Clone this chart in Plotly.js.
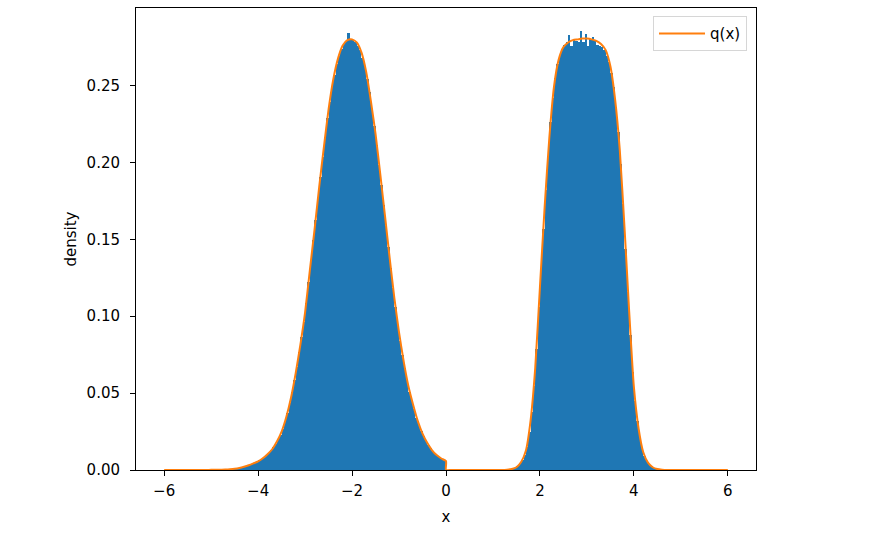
<!DOCTYPE html>
<html>
<head>
<meta charset="utf-8">
<script src="https://cdn.plot.ly/plotly-3.0.1.min.js"></script>
<style>
  html, body { margin: 0; padding: 0; background: #fff; }
  #chart { width: 890px; height: 536px; }
</style>
</head>
<body>
<div id="chart"></div>
<script>
// ---- Data ----

// q(x) curve, left part: x from -6.0 to 0.0 step 0.1
const curveXLeft = [-6.0,-5.9,-5.8,-5.7,-5.6,-5.5,-5.4,-5.3,-5.2,-5.1,
  -5.0,-4.9,-4.8,-4.7,-4.6,-4.5,-4.4,-4.3,-4.2,-4.1,
  -4.0,-3.9,-3.8,-3.7,-3.6,-3.5,-3.4,-3.3,-3.2,-3.1,
  -3.0,-2.9,-2.8,-2.7,-2.6,-2.5,-2.4,-2.3,-2.2,-2.1,
  -2.0,-1.9,-1.8,-1.7,-1.6,-1.5,-1.4,-1.3,-1.2,-1.1,
  -1.0,-0.9,-0.8,-0.7,-0.6,-0.5,-0.4,-0.3,-0.2,-0.1,0.0];
const curveYLeft = [0,0,0,0,0,0,0,0,0,0,
  0.0001,0.0001,0.0002,0.0003,0.0005,0.0008,0.0013,0.0021,0.0031,0.0043,
  0.0056,0.0076,0.0103,0.0135,0.0185,0.0250,0.0345,0.0470,0.0630,0.0815,
  0.1025,0.1295,0.1560,0.1840,0.2100,0.2345,0.2540,0.2675,0.2760,0.2795,
  0.2800,0.2780,0.2715,0.2590,0.2400,0.2185,0.1925,0.1655,0.1380,0.1120,
  0.0895,0.0705,0.0545,0.0425,0.0318,0.0237,0.0177,0.0130,0.0097,0.0075,0.0058];

// q(x) curve, right part: x from 0.0 to 6.0 step 0.1
const curveXRight = [0.0,0.1,0.2,0.3,0.4,0.5,0.6,0.7,0.8,0.9,
  1.0,1.1,1.2,1.3,1.4,1.5,1.6,1.7,1.8,1.9,
  2.0,2.1,2.2,2.3,2.4,2.5,2.6,2.7,2.8,2.9,
  3.0,3.1,3.2,3.3,3.4,3.5,3.6,3.7,3.8,3.9,
  4.0,4.1,4.2,4.3,4.4,4.5,4.6,4.7,4.8,4.9,
  5.0,5.1,5.2,5.3,5.4,5.5,5.6,5.7,5.8,5.9,6.0];
const curveYRight = [0,0,0,0,0,0,0,0,0,0,
  0,0,0,0.0002,0.0006,0.0018,0.0052,0.0125,0.0320,0.0665,
  0.1190,0.1710,0.2160,0.2495,0.2670,0.2750,0.2780,0.2795,0.2800,0.2805,
  0.2805,0.2800,0.2790,0.2770,0.2730,0.2625,0.2410,0.2080,0.1580,0.1030,
  0.0540,0.0270,0.0115,0.0048,0.0018,0.0006,0.0002,0,0,0,
  0,0,0,0,0,0,0,0,0,0,0];

// Histogram (density), bin width 0.05
const binWidth = 0.05;
const histLeftStart = -4.9;   // bins from -4.9 to 0.0
const histLeft = [
  0.0001,0.0002,0.0002,0.0003,0.0004,0.0005,0.0007,0.0008,0.0010,0.0013,
  0.0017,0.0021,0.0025,0.0030,0.0036,0.0042,0.0048,0.0055,0.0063,0.0073,
  0.0084,0.0097,0.0110,0.0127,0.0147,0.0172,0.0200,0.0230,0.0268,0.0318,
  0.0372,0.0438,0.0505,0.0588,0.0672,0.0765,0.0862,0.0965,0.1085,0.1225,
  0.1365,0.1495,0.1625,0.1770,0.1905,0.2035,0.2165,0.2290,0.2395,0.2495,
  0.2570,0.2640,0.2695,0.2740,0.2770,0.2790,0.2840,0.2800,0.2795,0.2785,
  0.2760,0.2730,0.2680,0.2625,0.2545,0.2455,0.2350,0.2240,0.2115,0.1985,
  0.1855,0.1720,0.1585,0.1450,0.1315,0.1185,0.1060,0.0945,0.0840,0.0750,
  0.0665,0.0585,0.0510,0.0450,0.0395,0.0340,0.0295,0.0255,0.0220,0.0190,
  0.0163,0.0140,0.0120,0.0104,0.0091,0.0080,0.0071,0.0063];
const histRightStart = 1.3;   // bins from 1.3 to 4.7
const histRight = [
  0.0002,0.0004,0.0008,0.0013,0.0024,0.0040,0.0065,0.0100,0.0152,0.0250,
  0.0380,0.0545,0.0790,0.1060,0.1310,0.1570,0.1820,0.2040,0.2260,0.2420,
  0.2550,0.2640,0.2700,0.2740,0.2765,0.2780,0.2830,0.2760,0.2800,0.2790,
  0.2785,0.2855,0.2780,0.2835,0.2760,0.2800,0.2815,0.2790,0.2765,0.2760,
  0.2750,0.2730,0.2695,0.2650,0.2580,0.2490,0.2360,0.2200,0.1990,0.1730,
  0.1440,0.1160,0.0880,0.0640,0.0450,0.0320,0.0215,0.0140,0.0090,0.0058,
  0.0037,0.0023,0.0014,0.0008,0.0005,0.0003,0.0002,0.0001];

const xTickVals = [-6,-4,-2,0,2,4,6];
const yTickVals = [0.00,0.05,0.10,0.15,0.20,0.25];

// ---- Build traces ----
const histX = [], histY = [];
histLeft.forEach((v, i) => { histX.push(histLeftStart + (i + 0.5) * binWidth); histY.push(v); });
histRight.forEach((v, i) => { histX.push(histRightStart + (i + 0.5) * binWidth); histY.push(v); });

const curveX = curveXLeft.concat(curveXRight);
const curveY = curveYLeft.concat(curveYRight);

const FONT = 'DejaVu Sans, Liberation Sans, sans-serif';

const traces = [
  {
    type: 'bar',
    x: histX,
    y: histY,
    width: binWidth,
    marker: { color: '#1f77b4', line: { width: 0 } },
    showlegend: false,
    hoverinfo: 'skip'
  },
  {
    type: 'scatter',
    mode: 'lines',
    x: curveX,
    y: curveY,
    name: 'q(x)',
    line: { color: '#ff7f0e', width: 2, shape: 'spline', smoothing: 0.6 }
  }
];

const layout = {
  width: 890,
  height: 536,
  margin: { l: 136, r: 134, t: 8, b: 66, pad: 0 },
  paper_bgcolor: '#ffffff',
  plot_bgcolor: '#ffffff',
  font: { family: FONT, size: 15, color: '#000000' },
  bargap: 0,
  xaxis: {
    range: [-6.6, 6.6],
    tickvals: xTickVals,
    ticks: 'outside',
    ticklen: 5,
    tickwidth: 1,
    tickcolor: '#000',
    ticklabelstandoff: 2,
    showline: true,
    linecolor: '#000',
    linewidth: 1,
    mirror: true,
    showgrid: false,
    zeroline: false,
    tickfont: { family: FONT, size: 15, color: '#000' },
    title: { text: 'x', font: { family: FONT, size: 15, color: '#000' }, standoff: 12 },
    automargin: false
  },
  yaxis: {
    range: [0, 0.3004],
    tickvals: yTickVals,
    tickformat: '.2f',
    ticks: 'outside',
    ticklen: 5,
    tickwidth: 1,
    tickcolor: '#000',
    ticklabelstandoff: 7,
    showline: true,
    linecolor: '#000',
    linewidth: 1,
    mirror: true,
    showgrid: false,
    zeroline: false,
    tickfont: { family: FONT, size: 15, color: '#000' },
    title: { text: 'density', font: { family: FONT, size: 15, color: '#000' }, standoff: 6 },
    automargin: false
  },
  legend: {
    x: 0.9855,
    xanchor: 'right',
    y: 0.982,
    yanchor: 'top',
    bgcolor: 'rgba(255,255,255,0.8)',
    bordercolor: '#d6d6d6',
    borderwidth: 1,
    itemwidth: 46,
    font: { family: FONT, size: 15, color: '#000' }
  },
  showlegend: true
};

Plotly.newPlot('chart', traces, layout, { displayModeBar: false, staticPlot: true });
</script>
</body>
</html>
